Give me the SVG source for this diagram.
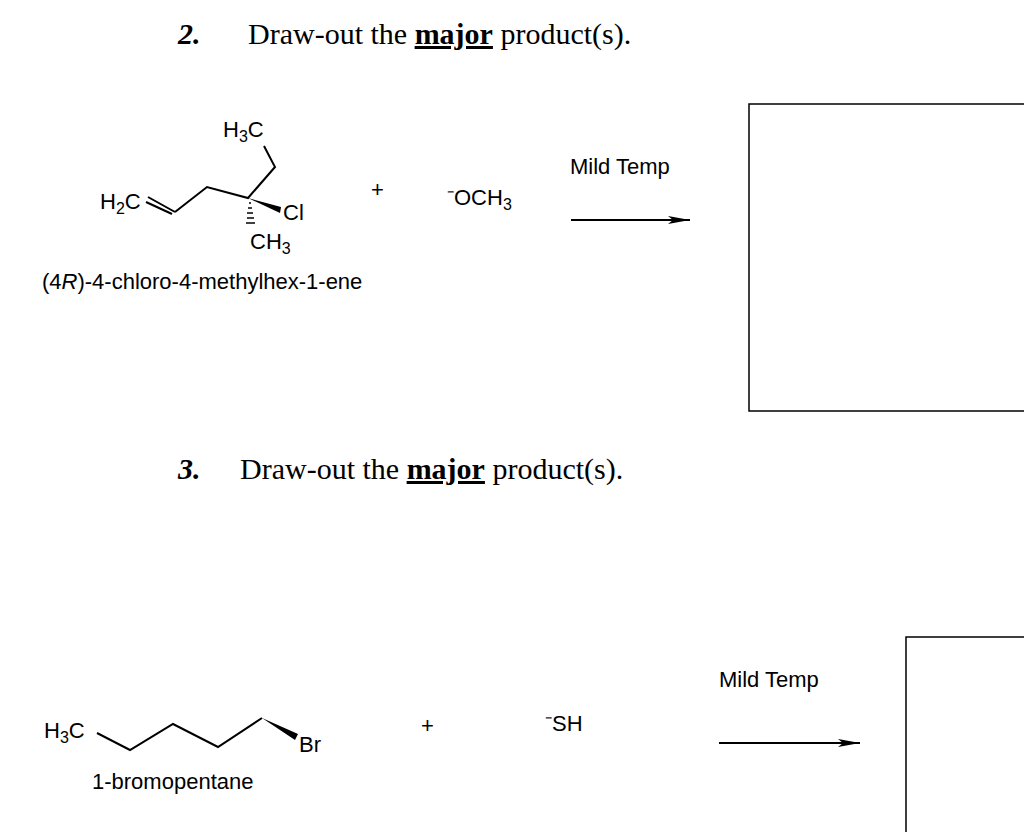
<svg xmlns="http://www.w3.org/2000/svg" width="1024" height="832" viewBox="0 0 1024 832">
<style>
.t{font-family:"Liberation Serif",serif;font-size:30px;fill:#000}
.s{font-family:"Liberation Sans",Arial,sans-serif;font-size:22px;fill:#000}
.sub{font-size:16px}
.b{stroke:#000;stroke-width:2;fill:none}
.box{stroke:#000;stroke-width:1.5;fill:#fff}
</style>
<defs><marker id="ah" markerWidth="22" markerHeight="8" refX="22" refY="4" orient="auto" markerUnits="userSpaceOnUse"><path d="M0,0L22,4L0,8L5,4Z" fill="#000"/></marker></defs>
<g id="title2"><text class="t" x="178" y="44" font-weight="bold" font-style="italic">2.</text><text class="t" x="248" y="44">Draw-out the <tspan font-weight="bold" text-decoration="underline">major</tspan> product(s).</text></g>
<g id="mol1">
<path class="b" d="M148,197L175,212M146,202L172,214M175,212L207,187L248,198L275,167L264,146"/>
<polygon points="248,198 281,207 280,213" fill="#000"/>
<g stroke="#000" stroke-width="1.5"><line x1="249" y1="203" x2="251" y2="203"/><line x1="248" y1="208" x2="252" y2="208"/><line x1="247" y1="213" x2="253" y2="213"/><line x1="247" y1="218" x2="254" y2="218"/><line x1="246" y1="223" x2="255" y2="223"/></g>
<text class="s" x="100" y="209">H<tspan class="sub" dy="5">2</tspan><tspan dy="-5">C</tspan></text>
<text class="s" x="223" y="137">H<tspan class="sub" dy="5">3</tspan><tspan dy="-5">C</tspan></text>
<text class="s" x="283" y="220">Cl</text>
<text class="s" x="250" y="249">CH<tspan class="sub" dy="5">3</tspan></text>
<text class="s" x="42" y="289" font-size="24">(4<tspan font-style="italic">R</tspan>)-4-chloro-4-methylhex-1-ene</text>
</g>
<g id="plus1"><text class="s" x="371" y="197" font-size="18">+</text></g>
<g id="och3"><text class="s" x="447" y="205">⁻OCH<tspan class="sub" dy="5">3</tspan></text></g>
<g id="cond1"><text class="s" x="570" y="174" font-size="23">Mild Temp</text></g>
<g id="box1"><rect class="box" x="749" y="104" width="290" height="307"/></g>
<g id="title3"><text class="t" x="178" y="479" font-weight="bold" font-style="italic">3.</text><text class="t" x="240" y="479">Draw-out the <tspan font-weight="bold" text-decoration="underline">major</tspan> product(s).</text></g>
<g id="mol2">
<path class="b" d="M97,733L130,750L173,724L218,747L262,718"/>
<polygon points="262,718 298,734 295,740" fill="#000"/>
<text class="s" x="44" y="738" font-size="25">H<tspan class="sub" font-size="18" dy="5">3</tspan><tspan dy="-5">C</tspan></text>
<text class="s" x="299" y="752" font-size="24">Br</text>
<text class="s" x="92" y="789" font-size="25">1-bromopentane</text>
</g>
<g id="plus2"><text class="s" x="421" y="733" font-size="22">+</text></g>
<g id="sh"><text class="s" x="545" y="731" font-size="25">⁻SH</text></g>
<g id="cond2"><text class="s" x="719" y="687" font-size="26">Mild Temp</text></g>
<g id="box2"><rect class="box" x="906" y="637" width="140" height="210"/></g>
<g id="connectors">
<line class="b" x1="571" y1="220" x2="690" y2="220" stroke-width="1.2" marker-end="url(#ah)"/>
<line class="b" x1="719" y1="743" x2="860" y2="743" stroke-width="1.2" marker-end="url(#ah)"/>
</g>
</svg>
